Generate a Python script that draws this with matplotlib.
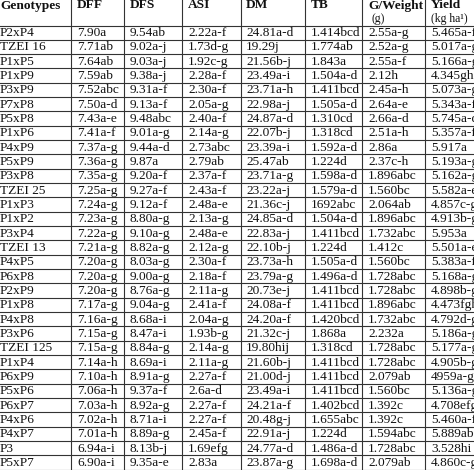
import matplotlib
matplotlib.use("Agg")
import matplotlib.pyplot as plt

headers = ["Genotypes", "DFF", "DFS", "ASI", "DM", "TB", "G/Weight", "Yield"]
subheaders = ["", "", "", "", "", "", "(g)", "(kg ha\u00b9)"]
genotypes = ["P2xP4","TZEI 16","P1xP5","P1xP9","P3xP9","P7xP8","P5xP8","P1xP6","P4xP9","P5xP9",
             "P3xP8","TZEI 25","P1xP3","P1xP2","P3xP4","TZEI 13","P4xP5","P6xP8","P2xP9","P1xP8",
             "P4xP8","P3xP6","TZEI 125","P1xP4","P6xP9","P5xP6","P6xP7","P4xP6","P4xP7","P3","P5xP7"]
dff = ["7.90a","7.71ab","7.64ab","7.59ab","7.52abc","7.50a-d","7.43a-e","7.41a-f","7.37a-g","7.36a-g",
       "7.35a-g","7.25a-g","7.24a-g","7.23a-g","7.22a-g","7.21a-g","7.20a-g","7.20a-g","7.20a-g","7.17a-g",
       "7.16a-g","7.15a-g","7.15a-g","7.14a-h","7.10a-h","7.06a-h","7.03a-h","7.02a-h","7.01a-h","6.94a-i","6.90a-i"]
dfs = ["9.54ab","9.02a-j","9.03a-j","9.38a-j","9.31a-f","9.13a-f","9.48abc","9.01a-g","9.44a-d","9.87a",
       "9.20a-f","9.27a-f","9.12a-f","8.80a-g","9.10a-g","8.82a-g","8.03a-g","9.00a-g","8.76a-g","9.04a-g",
       "8.68a-i","8.47a-i","8.84a-g","8.69a-i","8.91a-g","9.37a-f","8.92a-g","8.71a-i","8.89a-g","8.13b-j","9.35a-e"]
asi = ["2.22a-f","1.73d-g","1.92c-g","2.28a-f","2.30a-f","2.05a-g","2.40a-f","2.14a-g","2.73abc","2.79ab",
       "2.37a-f","2.43a-f","2.48a-e","2.13a-g","2.48a-e","2.12a-g","2.30a-f","2.18a-f","2.11a-g","2.41a-f",
       "2.04a-g","1.93b-g","2.14a-g","2.11a-g","2.27a-f","2.6a-d","2.27a-f","2.27a-f","2.45a-f","1.69efg","2.83a"]
dm = ["24.81a-d","19.29j","21.56b-j","23.49a-i","23.71a-h","22.98a-j","24.87a-d","22.07b-j","23.39a-i","25.47ab",
      "23.71a-g","23.22a-j","21.36c-j","24.85a-d","22.83a-j","22.10b-j","23.73a-h","23.79a-g","20.73e-j","24.08a-f",
      "24.20a-f","21.32c-j","19.80hij","21.60b-j","21.00d-j","23.49a-i","24.21a-f","20.48g-j","22.91a-j","24.77a-d","23.87a-g"]
tb = ["1.414bcd","1.774ab","1.843a","1.504a-d","1.411bcd","1.505a-d","1.310cd","1.318cd","1.592a-d","1.224d",
      "1.598a-d","1.579a-d","1692abc","1.504a-d","1.411bcd","1.224d","1.505a-d","1.496a-d","1.411bcd","1.411bcd",
      "1.420bcd","1.868a","1.318cd","1.411bcd","1.411bcd","1.411bcd","1.402bcd","1.655abc","1.224d","1.486a-d","1.698a-d"]
gw = ["2.55a-g","2.52a-g","2.55a-f","2.12h","2.45a-h","2.64a-e","2.66a-d","2.51a-h","2.86a","2.37c-h",
      "1.896abc","1.560bc","2.064ab","1.896abc","1.732abc","1.412c","1.560bc","1.728abc","1.728abc","1.896abc",
      "1.732abc","2.232a","1.728abc","1.728abc","2.079ab","1.560bc","1.392c","1.392c","1.594abc","1.728abc","2.079ab"]
yld = ["5.465a-f","5.017a-g","5.166a-g","4.345gh","5.073a-g","5.343a-f","5.745a-d","5.357a-f","5.917a","5.193a-g",
       "5.162a-g","5.582a-e","4.857c-g","4.913b-g","5.953a","5.501a-e","5.383a-f","5.168a-g","4.898b-g","4.473fgh",
       "4.792d-g","5.186a-g","5.177a-g","4.905b-g","4959a-g","5.136a-g","4.708efg","5.460a-f","5.889ab","3.528hi","4.860c-g"]
columns = [genotypes, dff, dfs, asi, dm, tb, gw, yld]

W, H = 474, 470
fig = plt.figure(figsize=(W/100, H/100), dpi=100)
ax = fig.add_axes([0, 0, 1, 1])
ax.set_xlim(0, W)
ax.set_ylim(H, 0)
ax.axis("off")

font = dict(family=["Liberation Serif", "DejaVu Serif"], fontsize=9.6, color="#111111")
text_x = [0, 77, 130, 188, 246, 311, 368, 431]
vlines = [71, 124, 182, 241, 305, 362, 425]
header_bottom = 25.5
row_h = 14.33
lc = "#333333"

for x in vlines:
    ax.plot([x, x], [0, H], color=lc, lw=0.8)
nrows = len(genotypes)
for i in range(nrows + 1):
    y = header_bottom + i * row_h
    ax.plot([0, W], [y, y], color=lc, lw=0.8)

for j, (h, sh) in enumerate(zip(headers, subheaders)):
    ax.text(text_x[j], 5.5, h, fontweight="bold", va="center", ha="left", **font)
    if sh:
        ax.text(text_x[j] + (4 if j == 6 else 0), 19, sh, va="center", ha="left",
                **{**font, "fontsize": 8.4})

for i in range(nrows):
    y = header_bottom + (i + 0.5) * row_h + 0.3
    for j, col in enumerate(columns):
        ax.text(text_x[j], y, col[i], va="center", ha="left", **font)

fig.savefig("out.png", dpi=100, facecolor="white")
